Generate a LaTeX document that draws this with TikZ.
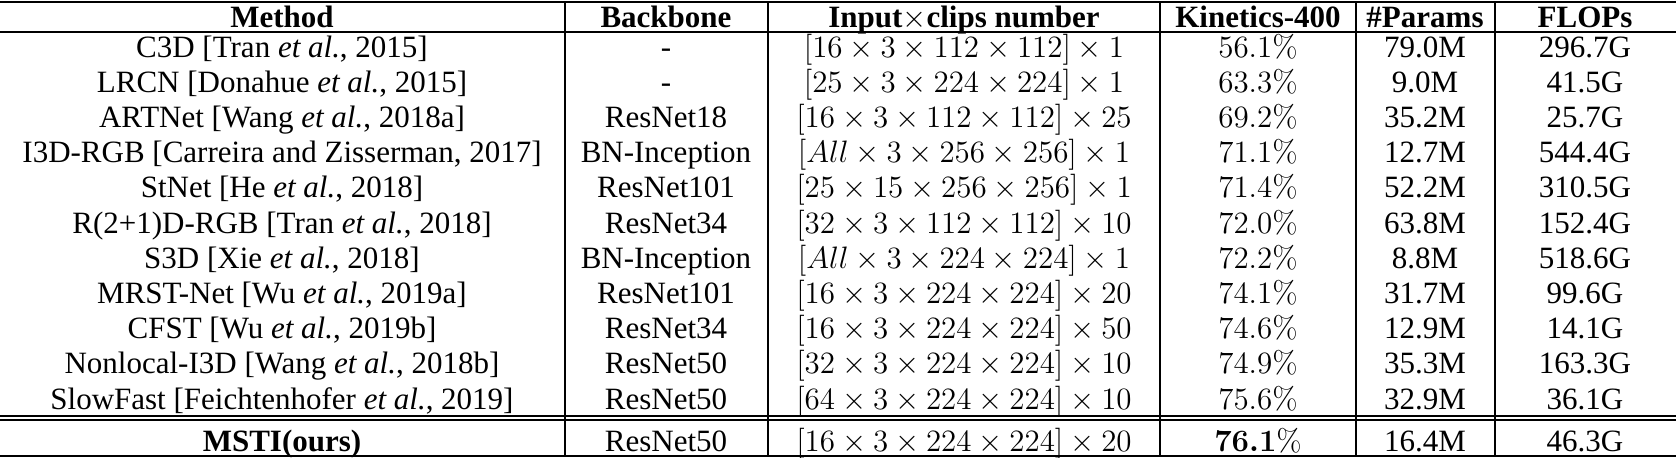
\documentclass[tikz,border=0pt]{standalone}
\usepackage{fix-cm}
\usepackage{amsmath,bm}
\usepackage[no-math]{fontspec}
\setmainfont{Liberation Serif}
\newcommand{\etal}{\textit{et al.}}
\newcommand{\tabrow}[8]{%
  \node[cell] (#2a) at (282,#1) {#3};
  \node[cell] (#2b) at (666,#1) {#4};
  \node[cell] (#2c) at (964,#1) {#5};
  \node[cell] (#2d) at (1258,#1) {#6};
  \node[cell] (#2e) at (1425,#1) {#7};
  \node[cell] (#2f) at (1585,#1) {#8};}
\begin{document}
\begin{tikzpicture}[x=0.5pt,y=-0.5pt,cell/.style={inner sep=0pt,anchor=base,yshift=-5.5pt},rule/.style={line width=1pt}]
\fontsize{15.5}{18}\selectfont
\useasboundingbox (0,0) rectangle (1676,457);
\draw[rule] (0,1.5) -- (1676,1.5);
\draw[rule] (0,32) -- (1676,32);
\draw[rule] (0,416) -- (1676,416);
\draw[rule] (0,420) -- (1676,420);
\draw[rule] (0,455.5) -- (1676,455.5);
\foreach \x in {565,768,1160,1356,1495} \draw[rule] (\x,1.5) -- (\x,455.5);
\tabrow{16}{h}{\textbf{Method}}{\textbf{Backbone}}{\textbf{Input$\times$clips number}}{\textbf{Kinetics-400}}{\textbf{\#Params}}{\textbf{FLOPs}}
\tabrow{46}{ra}{C3D [Tran \etal, 2015]}{-}{$[16\times3\times112\times112]\times1$}{$56.1\%$}{79.0M}{296.7G}
\tabrow{81.2}{rb}{LRCN [Donahue \etal, 2015]}{-}{$[25\times3\times224\times224]\times1$}{$63.3\%$}{9.0M}{41.5G}
\tabrow{116.4}{rc}{ARTNet [Wang \etal, 2018a]}{ResNet18}{$[16\times3\times112\times112]\times25$}{$69.2\%$}{35.2M}{25.7G}
\tabrow{151.6}{rd}{I3D-RGB [Carreira and Zisserman, 2017]}{BN-Inception}{$[All\times3\times256\times256]\times1$}{$71.1\%$}{12.7M}{544.4G}
\tabrow{186.8}{re}{StNet [He \etal, 2018]}{ResNet101}{$[25\times15\times256\times256]\times1$}{$71.4\%$}{52.2M}{310.5G}
\tabrow{222}{rf}{R(2+1)D-RGB [Tran \etal, 2018]}{ResNet34}{$[32\times3\times112\times112]\times10$}{$72.0\%$}{63.8M}{152.4G}
\tabrow{257.2}{rg}{S3D [Xie \etal, 2018]}{BN-Inception}{$[All\times3\times224\times224]\times1$}{$72.2\%$}{8.8M}{518.6G}
\tabrow{292.4}{rh}{MRST-Net [Wu \etal, 2019a]}{ResNet101}{$[16\times3\times224\times224]\times20$}{$74.1\%$}{31.7M}{99.6G}
\tabrow{327.6}{ri}{CFST [Wu \etal, 2019b]}{ResNet34}{$[16\times3\times224\times224]\times50$}{$74.6\%$}{12.9M}{14.1G}
\tabrow{362.8}{rj}{Nonlocal-I3D [Wang \etal, 2018b]}{ResNet50}{$[32\times3\times224\times224]\times10$}{$74.9\%$}{35.3M}{163.3G}
\tabrow{398}{rk}{SlowFast [Feichtenhofer \etal, 2019]}{ResNet50}{$[64\times3\times224\times224]\times10$}{$75.6\%$}{32.9M}{36.1G}
\tabrow{440}{rl}{\textbf{MSTI(ours)}}{ResNet50}{$[16\times3\times224\times224]\times20$}{$\boldsymbol{76.1\%}$}{16.4M}{46.3G}
\end{tikzpicture}
\end{document}
